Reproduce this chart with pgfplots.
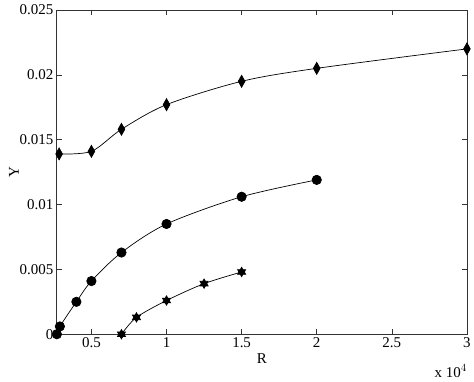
\documentclass[border=0pt]{standalone}
\usepackage{fontspec}
\setmainfont{Liberation Serif}
\usepackage{pgfplots}
\pgfplotsset{compat=1.18}
\pgfdeclareplotmark{hexa}{%
  \pgfpathmoveto{\pgfqpointpolar{90}{\pgfplotmarksize}}%
  \pgfpathlineto{\pgfqpointpolar{210}{\pgfplotmarksize}}%
  \pgfpathlineto{\pgfqpointpolar{330}{\pgfplotmarksize}}%
  \pgfpathclose
  \pgfpathmoveto{\pgfqpointpolar{270}{\pgfplotmarksize}}%
  \pgfpathlineto{\pgfqpointpolar{30}{\pgfplotmarksize}}%
  \pgfpathlineto{\pgfqpointpolar{150}{\pgfplotmarksize}}%
  \pgfpathclose
  \pgfusepathqfillstroke}
\begin{document}
\begin{tikzpicture}
\begin{axis}[
  name=ax,
  scale only axis, width=411pt, height=325pt,
  xmin=0.27, xmax=3, ymin=0, ymax=0.025,
  scaled x ticks=false, scaled y ticks=false,
  xtick={0.5,1,1.5,2,2.5,3}, xticklabels={0.5,1,1.5,2,2.5,3},
  ytick={0,0.005,0.01,0.015,0.02,0.025},
  yticklabels={0,0.005,0.01,0.015,0.02,0.025},
  tick align=inside, tick pos=both,
  major tick length=5pt,
  axis line style={line width=0.8pt, black!80},
  every tick/.style={black!80, line width=0.6pt},
  ticklabel style={font=\fontsize{15}{17}\selectfont},
  label style={font=\fontsize{15}{17}\selectfont},
  xlabel={R}, ylabel={Y},
  xlabel style={yshift=1pt},
  ylabel style={yshift=-6pt},
]
\addplot[black, line width=0.7pt, smooth, mark=diamond*, mark size=6pt, mark options={xscale=0.75, fill=black}]
 coordinates {(0.285,0.0139)(0.5,0.0141)(0.7,0.0158)(1,0.0177)(1.5,0.0195)(2,0.0205)(3,0.0220)};
\addplot[black, line width=0.7pt, smooth, mark=*, mark size=4.7pt]
 coordinates {(0.27,0)(0.29,0.0006)(0.4,0.0025)(0.5,0.0041)(0.7,0.0063)(1,0.0085)(1.5,0.0106)(2,0.0119)};
\addplot[black, line width=0.7pt, smooth, mark=hexa, mark size=4.7pt, mark options={fill=black}]
 coordinates {(0.7,0)(0.8,0.0013)(1,0.0026)(1.25,0.0039)(1.5,0.0048)};
\end{axis}
\node[anchor=base east, font=\fontsize{15}{17}\selectfont, inner sep=0pt] at ([xshift=0pt,yshift=-43pt]ax.south east) {x 10$^{4}$};
\path[use as bounding box] ([xshift=-57pt,yshift=-47pt]ax.south west) rectangle ([xshift=6pt,yshift=10pt]ax.north east);
\end{tikzpicture}
\end{document}
